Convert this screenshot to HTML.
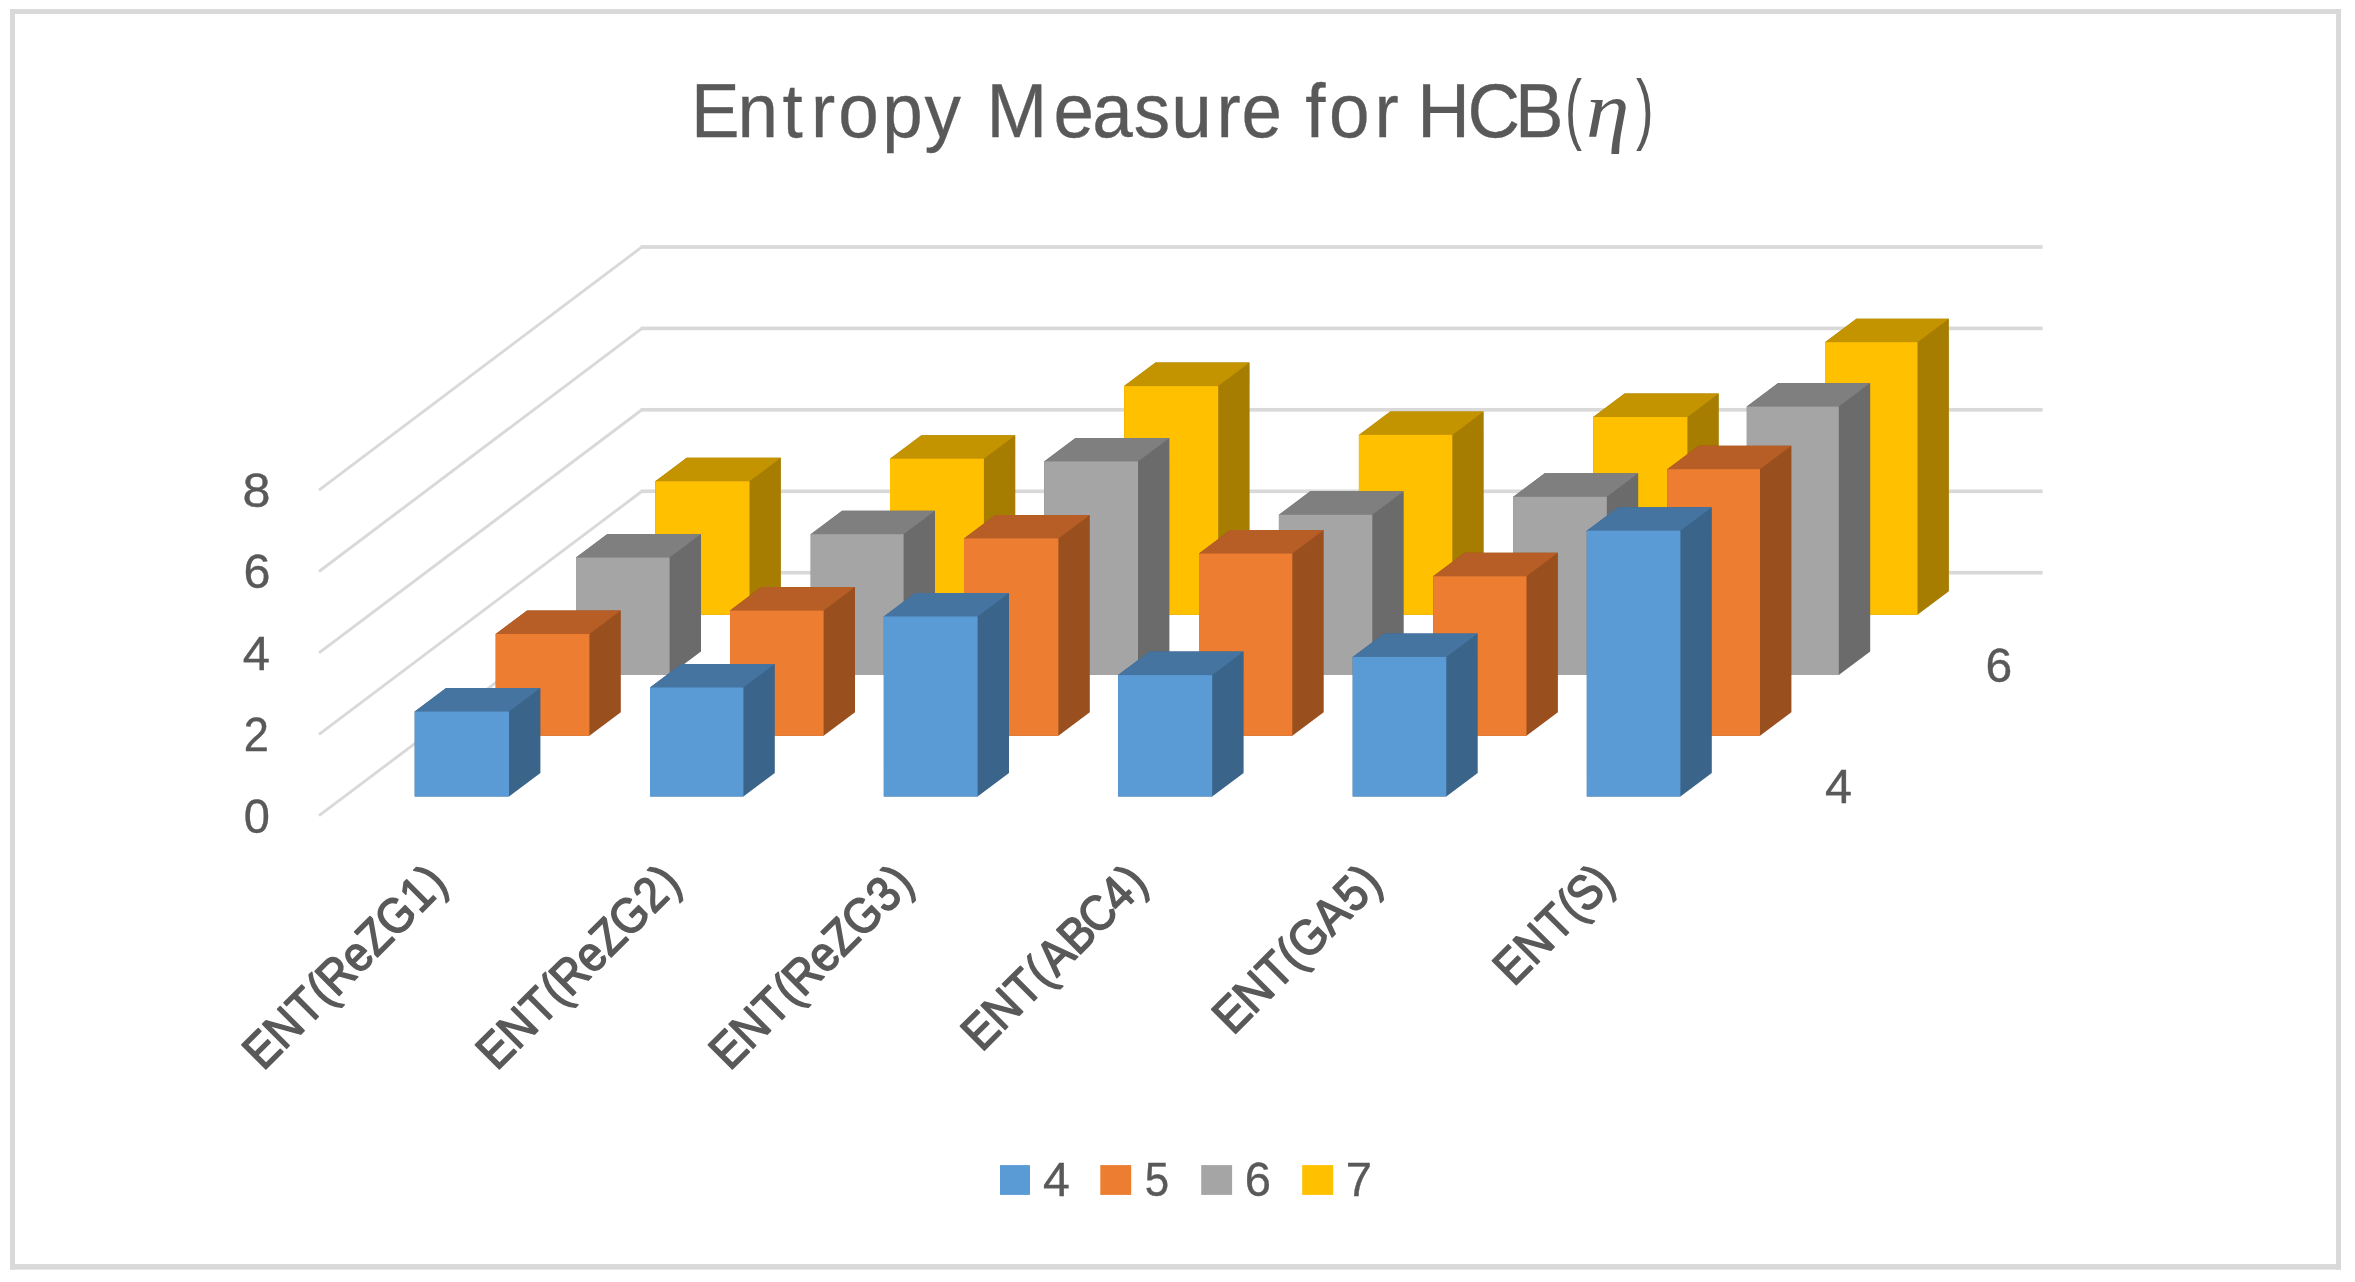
<!DOCTYPE html>
<html lang="en"><head><meta charset="utf-8"><title>Entropy Measure for HCB(η)</title>
<style>html,body{margin:0;padding:0;background:#fff}body{width:2355px;height:1282px;overflow:hidden}svg{display:block}text{font-family:"Liberation Sans",sans-serif;fill:#595959}.eta{font-family:"Liberation Serif",serif;font-style:italic}</style></head><body>
<svg width="2355" height="1282" viewBox="0 0 2355 1282">
<defs><filter id="soft" x="0" y="0" width="2355" height="1282" filterUnits="userSpaceOnUse" color-interpolation-filters="sRGB"><feGaussianBlur stdDeviation="0.6"/></filter></defs>
<rect x="0" y="0" width="2355" height="1282" fill="#fff"/>
<g filter="url(#soft)">
<rect x="0" y="0" width="2355" height="1282" fill="#fff"/>
<rect x="10.1" y="9.1" width="2330.9" height="4.9" fill="#D9D9D9"/><rect x="10.1" y="1264.1" width="2330.9" height="5.5" fill="#D9D9D9"/><rect x="10.1" y="9.1" width="4.9" height="1260.5" fill="#D9D9D9"/><rect x="2336.1" y="9.1" width="4.9" height="1260.5" fill="#D9D9D9"/>
<line x1="319.0" y1="815.7" x2="641.6" y2="572.9" stroke="#D9D9D9" stroke-width="2.9"/>
<rect x="640.6" y="570.85" width="1402.0" height="3.7" fill="#D9D9D9"/>
<line x1="319.0" y1="734.3" x2="641.6" y2="491.5" stroke="#D9D9D9" stroke-width="2.9"/>
<rect x="640.6" y="489.45" width="1402.0" height="3.7" fill="#D9D9D9"/>
<line x1="319.0" y1="652.9" x2="641.6" y2="410.0" stroke="#D9D9D9" stroke-width="2.9"/>
<rect x="640.6" y="407.95" width="1402.0" height="3.7" fill="#D9D9D9"/>
<line x1="319.0" y1="571.5" x2="641.6" y2="328.6" stroke="#D9D9D9" stroke-width="2.9"/>
<rect x="640.6" y="326.55" width="1402.0" height="3.7" fill="#D9D9D9"/>
<line x1="319.0" y1="490.1" x2="641.6" y2="247.2" stroke="#D9D9D9" stroke-width="2.9"/>
<rect x="640.6" y="245.15" width="1402.0" height="3.7" fill="#D9D9D9"/>
<polygon points="655.3,481.3 686.7,457.8 780.9,457.8 780.9,591.3 749.5,614.8 655.3,614.8" fill="#A67D00"/>
<polygon points="655.3,482.3 655.3,481.3 686.7,457.8 780.9,457.8 749.5,481.3 749.5,482.3" fill="#C49300"/>
<rect x="655.3" y="481.3" width="94.2" height="133.5" fill="#FFC000"/>
<polygon points="890.0,458.7 921.4,435.2 1015.3,435.2 1015.3,591.3 983.9,614.8 890.0,614.8" fill="#A67D00"/>
<polygon points="890.0,459.7 890.0,458.7 921.4,435.2 1015.3,435.2 983.9,458.7 983.9,459.7" fill="#C49300"/>
<rect x="890.0" y="458.7" width="93.9" height="156.1" fill="#FFC000"/>
<polygon points="1124.1,386.1 1155.5,362.6 1249.6,362.6 1249.6,591.3 1218.2,614.8 1124.1,614.8" fill="#A67D00"/>
<polygon points="1124.1,387.1 1124.1,386.1 1155.5,362.6 1249.6,362.6 1218.2,386.1 1218.2,387.1" fill="#C49300"/>
<rect x="1124.1" y="386.1" width="94.1" height="228.7" fill="#FFC000"/>
<polygon points="1358.9,434.9 1390.3,411.4 1483.7,411.4 1483.7,591.3 1452.3,614.8 1358.9,614.8" fill="#A67D00"/>
<polygon points="1358.9,435.9 1358.9,434.9 1390.3,411.4 1483.7,411.4 1452.3,434.9 1452.3,435.9" fill="#C49300"/>
<rect x="1358.9" y="434.9" width="93.4" height="179.9" fill="#FFC000"/>
<polygon points="1593.2,417.0 1624.6,393.5 1718.8,393.5 1718.8,591.3 1687.4,614.8 1593.2,614.8" fill="#A67D00"/>
<polygon points="1593.2,418.0 1593.2,417.0 1624.6,393.5 1718.8,393.5 1687.4,417.0 1687.4,418.0" fill="#C49300"/>
<rect x="1593.2" y="417.0" width="94.2" height="197.8" fill="#FFC000"/>
<polygon points="1825.0,342.2 1856.4,318.7 1948.9,318.7 1948.9,591.3 1917.5,614.8 1825.0,614.8" fill="#A67D00"/>
<polygon points="1825.0,343.2 1825.0,342.2 1856.4,318.7 1948.9,318.7 1917.5,342.2 1917.5,343.2" fill="#C49300"/>
<rect x="1825.0" y="342.2" width="92.5" height="272.6" fill="#FFC000"/>
<polygon points="576.0,557.6 607.4,534.1 701.0,534.1 701.0,651.5 669.6,675.0 576.0,675.0" fill="#6B6B6B"/>
<polygon points="576.0,558.6 576.0,557.6 607.4,534.1 701.0,534.1 669.6,557.6 669.6,558.6" fill="#7F7F7F"/>
<rect x="576.0" y="557.6" width="93.6" height="117.4" fill="#A5A5A5"/>
<polygon points="810.7,534.2 842.1,510.7 935.0,510.7 935.0,651.5 903.6,675.0 810.7,675.0" fill="#6B6B6B"/>
<polygon points="810.7,535.2 810.7,534.2 842.1,510.7 935.0,510.7 903.6,534.2 903.6,535.2" fill="#7F7F7F"/>
<rect x="810.7" y="534.2" width="92.9" height="140.8" fill="#A5A5A5"/>
<polygon points="1044.1,461.4 1075.5,437.9 1169.4,437.9 1169.4,651.5 1138.0,675.0 1044.1,675.0" fill="#6B6B6B"/>
<polygon points="1044.1,462.4 1044.1,461.4 1075.5,437.9 1169.4,437.9 1138.0,461.4 1138.0,462.4" fill="#7F7F7F"/>
<rect x="1044.1" y="461.4" width="93.9" height="213.6" fill="#A5A5A5"/>
<polygon points="1278.9,514.8 1310.3,491.3 1403.7,491.3 1403.7,651.5 1372.3,675.0 1278.9,675.0" fill="#6B6B6B"/>
<polygon points="1278.9,515.8 1278.9,514.8 1310.3,491.3 1403.7,491.3 1372.3,514.8 1372.3,515.8" fill="#7F7F7F"/>
<rect x="1278.9" y="514.8" width="93.4" height="160.2" fill="#A5A5A5"/>
<polygon points="1513.3,496.8 1544.7,473.3 1638.2,473.3 1638.2,651.5 1606.8,675.0 1513.3,675.0" fill="#6B6B6B"/>
<polygon points="1513.3,497.8 1513.3,496.8 1544.7,473.3 1638.2,473.3 1606.8,496.8 1606.8,497.8" fill="#7F7F7F"/>
<rect x="1513.3" y="496.8" width="93.5" height="178.2" fill="#A5A5A5"/>
<polygon points="1746.8,406.6 1778.2,383.1 1870.2,383.1 1870.2,651.5 1838.8,675.0 1746.8,675.0" fill="#6B6B6B"/>
<polygon points="1746.8,407.6 1746.8,406.6 1778.2,383.1 1870.2,383.1 1838.8,406.6 1838.8,407.6" fill="#7F7F7F"/>
<rect x="1746.8" y="406.6" width="92.0" height="268.4" fill="#A5A5A5"/>
<polygon points="495.7,634.0 527.1,610.5 620.8,610.5 620.8,712.3 589.4,735.8 495.7,735.8" fill="#9A4F1F"/>
<polygon points="495.7,635.0 495.7,634.0 527.1,610.5 620.8,610.5 589.4,634.0 589.4,635.0" fill="#B65E25"/>
<rect x="495.7" y="634.0" width="93.7" height="101.8" fill="#ED7D31"/>
<polygon points="730.0,610.6 761.4,587.1 855.0,587.1 855.0,712.3 823.6,735.8 730.0,735.8" fill="#9A4F1F"/>
<polygon points="730.0,611.6 730.0,610.6 761.4,587.1 855.0,587.1 823.6,610.6 823.6,611.6" fill="#B65E25"/>
<rect x="730.0" y="610.6" width="93.6" height="125.2" fill="#ED7D31"/>
<polygon points="964.0,538.4 995.4,514.9 1089.8,514.9 1089.8,712.3 1058.4,735.8 964.0,735.8" fill="#9A4F1F"/>
<polygon points="964.0,539.4 964.0,538.4 995.4,514.9 1089.8,514.9 1058.4,538.4 1058.4,539.4" fill="#B65E25"/>
<rect x="964.0" y="538.4" width="94.4" height="197.4" fill="#ED7D31"/>
<polygon points="1199.0,553.6 1230.4,530.1 1323.7,530.1 1323.7,712.3 1292.3,735.8 1199.0,735.8" fill="#9A4F1F"/>
<polygon points="1199.0,554.6 1199.0,553.6 1230.4,530.1 1323.7,530.1 1292.3,553.6 1292.3,554.6" fill="#B65E25"/>
<rect x="1199.0" y="553.6" width="93.3" height="182.2" fill="#ED7D31"/>
<polygon points="1433.2,576.3 1464.6,552.8 1557.9,552.8 1557.9,712.3 1526.5,735.8 1433.2,735.8" fill="#9A4F1F"/>
<polygon points="1433.2,577.3 1433.2,576.3 1464.6,552.8 1557.9,552.8 1526.5,576.3 1526.5,577.3" fill="#B65E25"/>
<rect x="1433.2" y="576.3" width="93.3" height="159.5" fill="#ED7D31"/>
<polygon points="1667.3,469.2 1698.7,445.7 1791.4,445.7 1791.4,712.3 1760.0,735.8 1667.3,735.8" fill="#9A4F1F"/>
<polygon points="1667.3,470.2 1667.3,469.2 1698.7,445.7 1791.4,445.7 1760.0,469.2 1760.0,470.2" fill="#B65E25"/>
<rect x="1667.3" y="469.2" width="92.7" height="266.6" fill="#ED7D31"/>
<polygon points="414.7,711.6 446.1,688.1 540.4,688.1 540.4,772.9 509.0,796.4 414.7,796.4" fill="#3A6489"/>
<polygon points="414.7,712.6 414.7,711.6 446.1,688.1 540.4,688.1 509.0,711.6 509.0,712.6" fill="#4674A0"/>
<rect x="414.7" y="711.6" width="94.3" height="84.8" fill="#5B9BD5"/>
<polygon points="650.0,687.5 681.4,664.0 774.8,664.0 774.8,772.9 743.4,796.4 650.0,796.4" fill="#3A6489"/>
<polygon points="650.0,688.5 650.0,687.5 681.4,664.0 774.8,664.0 743.4,687.5 743.4,688.5" fill="#4674A0"/>
<rect x="650.0" y="687.5" width="93.4" height="108.9" fill="#5B9BD5"/>
<polygon points="883.8,616.5 915.2,593.0 1009.0,593.0 1009.0,772.9 977.6,796.4 883.8,796.4" fill="#3A6489"/>
<polygon points="883.8,617.5 883.8,616.5 915.2,593.0 1009.0,593.0 977.6,616.5 977.6,617.5" fill="#4674A0"/>
<rect x="883.8" y="616.5" width="93.8" height="179.9" fill="#5B9BD5"/>
<polygon points="1118.1,675.1 1149.5,651.6 1243.6,651.6 1243.6,772.9 1212.2,796.4 1118.1,796.4" fill="#3A6489"/>
<polygon points="1118.1,676.1 1118.1,675.1 1149.5,651.6 1243.6,651.6 1212.2,675.1 1212.2,676.1" fill="#4674A0"/>
<rect x="1118.1" y="675.1" width="94.1" height="121.3" fill="#5B9BD5"/>
<polygon points="1352.7,656.9 1384.1,633.4 1477.7,633.4 1477.7,772.9 1446.3,796.4 1352.7,796.4" fill="#3A6489"/>
<polygon points="1352.7,657.9 1352.7,656.9 1384.1,633.4 1477.7,633.4 1446.3,656.9 1446.3,657.9" fill="#4674A0"/>
<rect x="1352.7" y="656.9" width="93.6" height="139.5" fill="#5B9BD5"/>
<polygon points="1586.8,530.7 1618.2,507.2 1711.8,507.2 1711.8,772.9 1680.4,796.4 1586.8,796.4" fill="#3A6489"/>
<polygon points="1586.8,531.7 1586.8,530.7 1618.2,507.2 1711.8,507.2 1680.4,530.7 1680.4,531.7" fill="#4674A0"/>
<rect x="1586.8" y="530.7" width="93.6" height="265.7" fill="#5B9BD5"/>
<text stroke="#595959" stroke-width="0.3" stroke-linejoin="round" transform="translate(0,136.60) scale(0.9700,1)" x="712.42 760.43 806.68 836.10 864.21 909.58 953.11" font-size="75.1">Entropy</text>
<text stroke="#595959" stroke-width="0.3" stroke-linejoin="round" transform="translate(0,136.60) scale(0.9700,1)" x="1016.90 1086.06 1126.11 1168.87 1207.59 1254.25 1279.88" font-size="75.1">Measure</text>
<text stroke="#595959" stroke-width="0.3" stroke-linejoin="round" transform="translate(0,136.60) scale(0.9700,1)" x="1345.55 1370.13 1417.08" font-size="75.1">for</text>
<text stroke="#595959" stroke-width="0.3" stroke-linejoin="round" transform="translate(0,136.60) scale(0.9700,1)" x="1461.06 1513.02 1561.95" font-size="75.1">HCB</text>
<text transform="translate(1564.88,134.60) scale(0.6545,1)" font-size="78">(</text>
<text transform="translate(1636.00,134.60) scale(0.6773,1)" font-size="78">)</text>
<text class="eta" transform="translate(1586.12,136.60) scale(1.0914,1)" font-size="80">η</text>
<text stroke="#595959" stroke-width="0.4" stroke-linejoin="round" transform="translate(243.72,833.00) scale(0.9750,1)" font-size="48.2">0</text>
<text stroke="#595959" stroke-width="0.4" stroke-linejoin="round" transform="translate(243.72,751.40) scale(0.9391,1)" font-size="48.2">2</text>
<text stroke="#595959" stroke-width="0.4" stroke-linejoin="round" transform="translate(242.68,669.80) scale(1.0160,1)" font-size="48.2">4</text>
<text stroke="#595959" stroke-width="0.4" stroke-linejoin="round" transform="translate(243.49,588.20) scale(1.0043,1)" font-size="48.2">6</text>
<text stroke="#595959" stroke-width="0.4" stroke-linejoin="round" transform="translate(242.51,506.60) scale(1.0435,1)" font-size="48.2">8</text>
<text stroke="#595959" stroke-width="0.4" stroke-linejoin="round" transform="translate(1824.89,802.70) scale(1.0080,1)" font-size="48.2">4</text>
<text stroke="#595959" stroke-width="0.4" stroke-linejoin="round" transform="translate(1985.61,681.70) scale(0.9957,1)" font-size="48.2">6</text>
<text stroke="#595959" stroke-width="1.6" stroke-linejoin="round" transform="translate(266.80,1067.90) rotate(-45) scale(0.9032,1)" x="-5.57 26.99 63.46 94.01 109.33 144.56 171.96 200.58 240.01 269.43" font-size="49.3">ENT(ReZG1)</text>
<text stroke="#595959" stroke-width="1.6" stroke-linejoin="round" transform="translate(500.40,1067.90) rotate(-45) scale(0.9032,1)" x="-5.57 26.99 63.46 94.01 109.33 144.56 171.96 200.58 239.90 269.43" font-size="49.3">ENT(ReZG2)</text>
<text stroke="#595959" stroke-width="1.6" stroke-linejoin="round" transform="translate(733.30,1067.90) rotate(-45) scale(0.9032,1)" x="-5.57 26.99 63.46 94.01 109.33 144.56 171.96 200.58 239.90 269.43" font-size="49.3">ENT(ReZG3)</text>
<text stroke="#595959" stroke-width="1.6" stroke-linejoin="round" transform="translate(985.30,1049.20) rotate(-45) scale(0.9077,1)" x="-5.62 26.77 63.07 93.50 111.24 144.50 175.06 209.97 239.38" font-size="49.3">ENT(ABC4)</text>
<text stroke="#595959" stroke-width="1.6" stroke-linejoin="round" transform="translate(1236.70,1032.20) rotate(-45) scale(0.9223,1)" x="-5.81 26.06 61.84 91.86 108.03 146.03 180.42 209.47" font-size="49.3">ENT(GA5)</text>
<text stroke="#595959" stroke-width="1.6" stroke-linejoin="round" transform="translate(1517.00,984.00) rotate(-45) scale(0.8795,1)" x="-5.24 28.20 65.58 96.82 111.65 143.04" font-size="49.3">ENT(S)</text>
<rect x="1000.0" y="1165.1" width="30.0" height="29.8" fill="#5B9BD5"/>
<text stroke="#595959" stroke-width="0.4" stroke-linejoin="round" transform="translate(1043.00,1195.80) scale(1.0000,1)" font-size="48.2">4</text>
<rect x="1100.3" y="1165.1" width="30.9" height="29.8" fill="#ED7D31"/>
<text stroke="#595959" stroke-width="0.4" stroke-linejoin="round" transform="translate(1144.69,1195.80) scale(0.9083,1)" font-size="48.2">5</text>
<rect x="1201.2" y="1165.1" width="30.9" height="29.8" fill="#A5A5A5"/>
<text stroke="#595959" stroke-width="0.4" stroke-linejoin="round" transform="translate(1244.74,1195.80) scale(0.9783,1)" font-size="48.2">6</text>
<rect x="1302.2" y="1165.1" width="31.0" height="29.8" fill="#FFC000"/>
<text stroke="#595959" stroke-width="0.4" stroke-linejoin="round" transform="translate(1345.74,1195.80) scale(0.9783,1)" font-size="48.2">7</text>
</g>
</svg></body></html>
